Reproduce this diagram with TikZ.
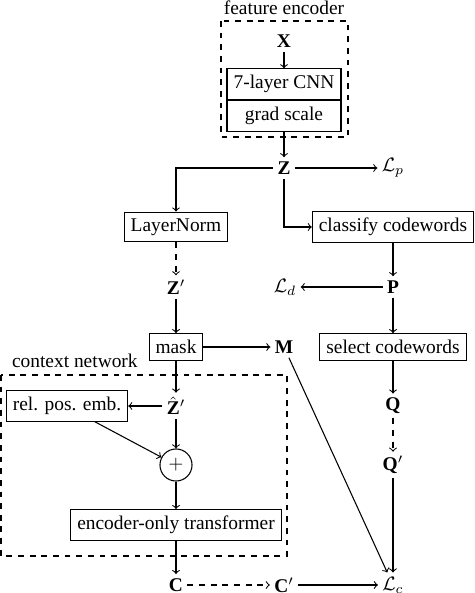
\documentclass[tikz,border=0pt]{standalone}
\usepackage{fontspec}
\setmainfont{Liberation Serif}
\begin{document}
\begin{tikzpicture}[x=0.515pt, y=-0.515pt, line width=0.55pt,
    blk/.style={draw, inner sep=3.33pt},
    var/.style={inner sep=2pt}]
    \useasboundingbox (0,0) rectangle (474,593);

    % feature encoder
    \draw[dashed] (221,21) rectangle (348,137);
    \node (fe) at (284,8) {feature encoder};
    \node[var] (x) at (284,41) {$\mathbf{X}$};
    \node[blk, minimum width=58.7pt, anchor=south] (cnn) at (284,100) {7-layer CNN};
    \node[blk, minimum width=58.7pt, anchor=north] (gs) at (284,100) {grad scale};

    % quantizer side
    \node[var] (z) at (284,168) {$\mathbf{Z}$};
    \node[var] (lp) at (393,168) {$\mathcal{L}_p$};
    \node[blk] (ln) at (176,227) {LayerNorm};
    \node[blk] (cc) at (393,227) {classify codewords};
    \node[var] (zp) at (176,287) {$\mathbf{Z}'$};
    \node[var] (p) at (393,287) {$\mathbf{P}$};
    \node[var] (ld) at (285,287) {$\mathcal{L}_d$};
    \node[blk] (mask) at (176,347) {mask};
    \node[var] (m) at (284,347) {$\mathbf{M}$};
    \node[blk] (sc) at (393,347) {select codewords};
    \node[var] (q) at (393,406) {$\mathbf{Q}$};
    \node[var] (qp) at (393,465) {$\mathbf{Q}'$};

    % context network
    \draw[dashed] (1,375) rectangle (287,556);
    \node[anchor=base west] (cn) at (5,367) {context network};
    \node[var] (zh) at (176,406) {$\hat{\mathbf{Z}}'$};
    \node[blk] (rpe) at (67,406) {rel. pos. emb.};
    \node[draw, circle, minimum size=16.5pt, inner sep=0pt] (plus) at (176,465) {$+$};
    \node[blk] (tr) at (176,525) {encoder-only transformer};

    % outputs
    \node[var] (c) at (176,585) {$\mathbf{C}$};
    \node[var] (cp) at (284,585) {$\mathbf{C}'$};
    \node[var] (lc) at (393,585) {$\mathcal{L}_c$};

    % connections
    \draw[->] (x) -- (cnn);
    \draw[->] (gs) -- (z);
    \draw[->] (z) -- (lp);
    \draw[->] (z) -| (ln);
    \draw[->] (z) |- (cc);
    \draw[->, dashed] (ln) -- (zp);
    \draw[->] (cc) -- (p);
    \draw[->] (p) -- (ld);
    \draw[->] (zp) -- (mask);
    \draw[->] (p) -- (sc);
    \draw[->] (mask) -- (m);
    \draw[->] (mask) -- (zh);
    \draw[->] (zh) -- (rpe);
    \draw[->] ([xshift=14.4pt]rpe.south) -- (plus);
    \draw[->] (zh) -- (plus);
    \draw[->] (plus) -- (tr);
    \draw[->] (tr) -- (c);
    \draw[->, dashed] (c) -- (cp);
    \draw[->] (cp) -- (lc);
    \draw[->] (sc) -- (q);
    \draw[->, dashed] (q) -- (qp);
    \draw[->] (qp) -- (lc);
    \draw[->] (m) -- (lc);
\end{tikzpicture}
\end{document}
